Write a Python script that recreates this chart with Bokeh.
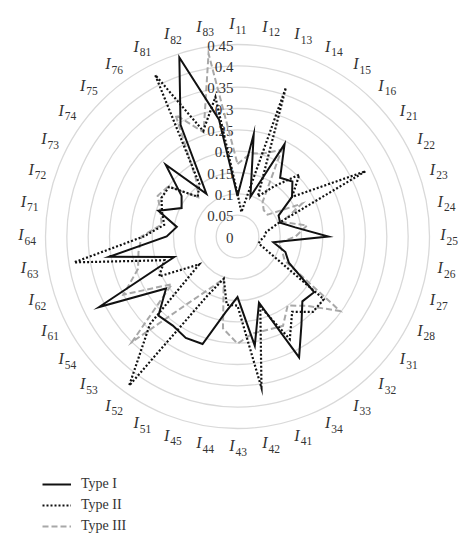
import numpy as np
from bokeh.plotting import figure
from bokeh.models import Range1d, Legend, LegendItem
from bokeh.embed import file_html
from bokeh.resources import INLINE
from bokeh.core.properties import value

categories = ["I11", "I12", "I13", "I14", "I15", "I16", "I21", "I22", "I23", "I24",
              "I25", "I26", "I27", "I28", "I31", "I32", "I33", "I34", "I41", "I42",
              "I43", "I44", "I45", "I51", "I52", "I53", "I54", "I61", "I62", "I63",
              "I64", "I71", "I72", "I73", "I74", "I75", "I76", "I81", "I82", "I83"]

type_1 = [0.095, 0.243, 0.098, 0.243, 0.170, 0.182, 0.158, 0.108, 0.105, 0.137,
          0.213, 0.085, 0.118, 0.135, 0.222, 0.215, 0.255, 0.318, 0.163, 0.259,
          0.142, 0.180, 0.265, 0.267, 0.258, 0.262, 0.207, 0.364, 0.156, 0.305,
          0.166, 0.144, 0.195, 0.147, 0.162, 0.238, 0.124, 0.294, 0.441, 0.278]

type_2 = [0.100, 0.058, 0.367, 0.105, 0.145, 0.205, 0.158, 0.337, 0.100, 0.068,
          0.063, 0.055, 0.052, 0.085, 0.250, 0.250, 0.218, 0.270, 0.173, 0.359,
          0.162, 0.162, 0.104, 0.156, 0.432, 0.290, 0.111, 0.206, 0.180, 0.388,
          0.220, 0.174, 0.186, 0.200, 0.198, 0.132, 0.152, 0.425, 0.260, 0.331]

type_3 = [0.170, 0.197, 0.205, 0.228, 0.100, 0.087, 0.087, 0.170, 0.110, 0.165,
          0.136, 0.098, 0.110, 0.124, 0.297, 0.230, 0.200, 0.235, 0.230, 0.230,
          0.251, 0.218, 0.104, 0.134, 0.190, 0.350, 0.190, 0.300, 0.245, 0.235,
          0.225, 0.180, 0.190, 0.210, 0.200, 0.130, 0.165, 0.320, 0.257, 0.434]

tick_values = [0, 0.05, 0.1, 0.15, 0.2, 0.25, 0.3, 0.35, 0.4, 0.45]
tick_labels = ["0", "0.05", "0.1", "0.15", "0.2", "0.25", "0.3", "0.35", "0.4", "0.45"]

series_names = ["Type I", "Type II", "Type III"]

# ---- layout constants (pixels) ----
W, H = 472, 548
CX, CY = 237, 236          # centre of the radar in figure pixels (from top-left)
K = 192 / 0.45             # pixels per value unit
LABEL_R = 211 / K          # radius of category labels

p = figure(width=W, height=H,
           x_range=Range1d(-CX / K, (W - CX) / K),
           y_range=Range1d(-(H - CY) / K, CY / K),
           toolbar_location=None, output_backend="svg",
           x_axis_type=None, y_axis_type=None, min_border=0)
p.grid.visible = False
p.outline_line_color = None
p.background_fill_color = "white"

# ---- rings ----
rings = tick_values[1:]
p.circle(x=[0] * len(rings), y=[0] * len(rings), radius=rings,
         fill_color=None, line_color="#d9d9d9", line_width=1.3)

# ---- value labels ----
p.text(x=[0] * len(tick_values), y=tick_values, text=tick_labels,
       text_align="right", text_baseline="middle", x_offset=-4, y_offset=1,
       text_font=value("Liberation Serif"), text_font_size="15px",
       text_color="#333333")

# ---- category labels ----
n = len(categories)
theta = np.arange(n) * 2 * np.pi / n
lx = LABEL_R * np.sin(theta)
ly = LABEL_R * np.cos(theta)
main_txt = [c[0] for c in categories]
sub_txt = [c[1:] for c in categories]
p.text(x=lx, y=ly, text=main_txt, text_align="right", text_baseline="middle",
       x_offset=-3, y_offset=-2, text_font=value("Liberation Serif"),
       text_font_style="italic", text_font_size="16px", text_color="#333333")
p.text(x=lx, y=ly, text=sub_txt, text_align="left", text_baseline="middle",
       x_offset=-2, y_offset=4, text_font=value("Liberation Serif"),
       text_font_size="11.5px", text_color="#333333")

# ---- series ----
def closed_xy(vals):
    v = np.array(vals + vals[:1])
    t = np.append(theta, theta[0])
    return v * np.sin(t), v * np.cos(t)

styles = [
    dict(line_color="#111111", line_width=2.0, line_dash="solid"),
    dict(line_color="#111111", line_width=2.2, line_dash="2 2"),
    dict(line_color="#a8a8a8", line_width=2.0, line_dash="6 3"),
]
renderers = []
for vals, st in zip([type_3, type_2, type_1], styles[::-1]):
    x, y = closed_xy(vals)
    r = p.line(x=x, y=y, line_join="miter", **st)
    renderers.append(r)
renderers = renderers[::-1]

legend = Legend(items=[LegendItem(label=nm, renderers=[r]) for nm, r in zip(series_names, renderers)],
                location=(42, 12), orientation="vertical",
                padding=0, margin=0, spacing=1, glyph_width=29, glyph_height=20,
                label_height=20, label_standoff=10,
                label_text_font="Liberation Serif", label_text_font_size="14px",
                label_text_color="#333333",
                border_line_alpha=0, background_fill_alpha=0)
p.add_layout(legend)

open("out.html", "w").write(file_html(p, INLINE))
